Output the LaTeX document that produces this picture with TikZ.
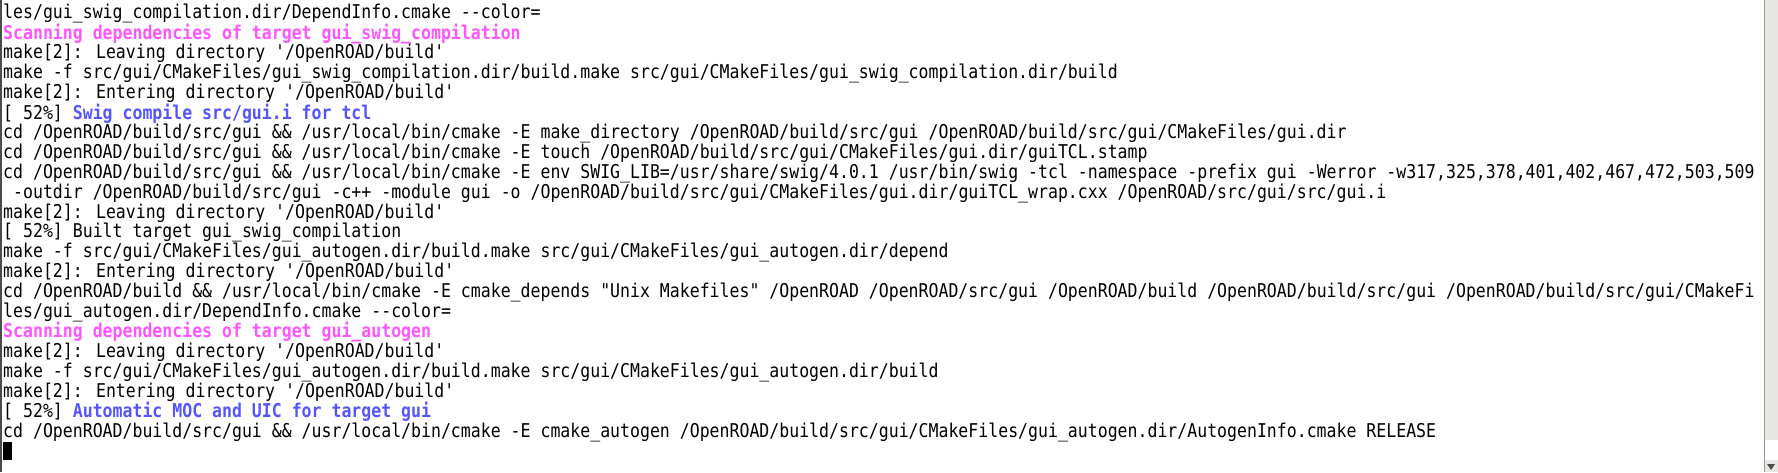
\documentclass[tikz,border=0pt]{standalone}
\usepackage{fontspec}
\newfontfamily\term{DejaVu Sans Mono}[FakeStretch=0.87]
\definecolor{tmag}{HTML}{FF55FF}
\definecolor{tblue}{HTML}{5555FF}
\definecolor{sbar}{HTML}{E8E6E3}
\begin{document}
\begin{tikzpicture}[x=1pt,y=-1pt,
  ln/.style={anchor=west,inner sep=0pt,font=\term\fontsize{19}{22}\selectfont,text=black},
  mg/.style={ln,text=tmag,font=\term\bfseries\fontsize{19}{22}\selectfont}]
\useasboundingbox (0,0) rectangle (1778,472);
\fill[white] (0,0) rectangle (1778,472);
\draw[line width=1.5pt,black!70] (0.75,0) -- (0.75,472);
\fill[sbar] (1764,0) rectangle (1778,472);
\draw[black!40] (1764,0) -- (1764,472);
\fill[white] (1765,440) rectangle (1778,460);
\fill[black!70] (1767,464) -- (1775,464) -- (1771,470) -- cycle;
\def\Y#1{13.6+19.93*#1}
\node[ln] (l0) at (3,{\Y0}) {les/gui\_swig\_compilation.dir/DependInfo.cmake --color=};
\node[mg] (l1) at (3,{\Y1}) {Scanning dependencies of target gui\_swig\_compilation};
\node[ln] (l2) at (3,{\Y2}) {make[2]: Leaving directory '/OpenROAD/build'};
\node[ln] (l3) at (3,{\Y3}) {make -f src/gui/CMakeFiles/gui\_swig\_compilation.dir/build.make src/gui/CMakeFiles/gui\_swig\_compilation.dir/build};
\node[ln] (l4) at (3,{\Y4}) {make[2]: Entering directory '/OpenROAD/build'};
\node[ln] (l5) at (3,{\Y5}) {[ 52\%] \textcolor{tblue}{\bfseries Swig compile src/gui.i for tcl}};
\node[ln] (l6) at (3,{\Y6}) {cd /OpenROAD/build/src/gui \&\& /usr/local/bin/cmake -E make\_directory /OpenROAD/build/src/gui /OpenROAD/build/src/gui/CMakeFiles/gui.dir};
\node[ln] (l7) at (3,{\Y7}) {cd /OpenROAD/build/src/gui \&\& /usr/local/bin/cmake -E touch /OpenROAD/build/src/gui/CMakeFiles/gui.dir/guiTCL.stamp};
\node[ln] (l8) at (3,{\Y8}) {cd /OpenROAD/build/src/gui \&\& /usr/local/bin/cmake -E env SWIG\_LIB=/usr/share/swig/4.0.1 /usr/bin/swig -tcl -namespace -prefix gui -Werror -w317,325,378,401,402,467,472,503,509};
\node[ln] (l9) at (3,{\Y9}) {\ -outdir /OpenROAD/build/src/gui -c++ -module gui -o /OpenROAD/build/src/gui/CMakeFiles/gui.dir/guiTCL\_wrap.cxx /OpenROAD/src/gui/src/gui.i};
\node[ln] (l10) at (3,{\Y{10}}) {make[2]: Leaving directory '/OpenROAD/build'};
\node[ln] (l11) at (3,{\Y{11}}) {[ 52\%] Built target gui\_swig\_compilation};
\node[ln] (l12) at (3,{\Y{12}}) {make -f src/gui/CMakeFiles/gui\_autogen.dir/build.make src/gui/CMakeFiles/gui\_autogen.dir/depend};
\node[ln] (l13) at (3,{\Y{13}}) {make[2]: Entering directory '/OpenROAD/build'};
\node[ln] (l14) at (3,{\Y{14}}) {cd /OpenROAD/build \&\& /usr/local/bin/cmake -E cmake\_depends "Unix Makefiles" /OpenROAD /OpenROAD/src/gui /OpenROAD/build /OpenROAD/build/src/gui /OpenROAD/build/src/gui/CMakeFi};
\node[ln] (l15) at (3,{\Y{15}}) {les/gui\_autogen.dir/DependInfo.cmake --color=};
\node[mg] (l16) at (3,{\Y{16}}) {Scanning dependencies of target gui\_autogen};
\node[ln] (l17) at (3,{\Y{17}}) {make[2]: Leaving directory '/OpenROAD/build'};
\node[ln] (l18) at (3,{\Y{18}}) {make -f src/gui/CMakeFiles/gui\_autogen.dir/build.make src/gui/CMakeFiles/gui\_autogen.dir/build};
\node[ln] (l19) at (3,{\Y{19}}) {make[2]: Entering directory '/OpenROAD/build'};
\node[ln] (l20) at (3,{\Y{20}}) {[ 52\%] \textcolor{tblue}{\bfseries Automatic MOC and UIC for target gui}};
\node[ln] (l21) at (3,{\Y{21}}) {cd /OpenROAD/build/src/gui \&\& /usr/local/bin/cmake -E cmake\_autogen /OpenROAD/build/src/gui/CMakeFiles/gui\_autogen.dir/AutogenInfo.cmake RELEASE};
\fill[black] (3,442) rectangle (12,460);
\end{tikzpicture}
\end{document}
